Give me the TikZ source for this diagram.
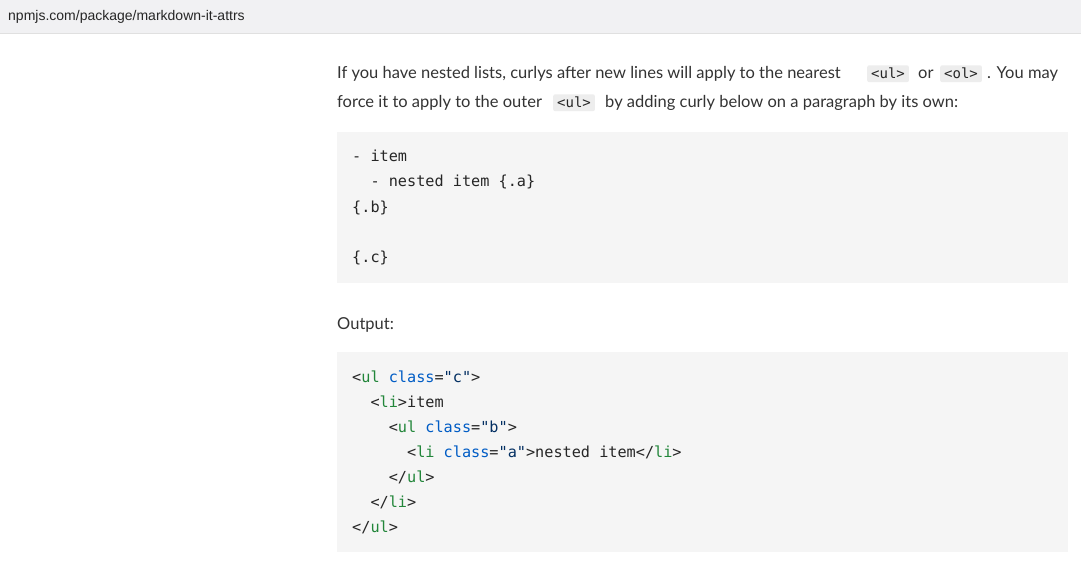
\documentclass[tikz,border=0pt]{standalone}
\usepackage{fontspec}
\setmainfont{Lato}
\newfontfamily\codefont{DejaVu Sans Mono}
\newfontfamily\barfont{Liberation Sans}
\definecolor{bar}{HTML}{F1F1F3}
\definecolor{codebg}{HTML}{F5F5F5}
\definecolor{inl}{HTML}{EDEDED}
\definecolor{tg}{HTML}{22863A}
\definecolor{at}{HTML}{005CC5}
\definecolor{st}{HTML}{032F62}
\definecolor{txt}{HTML}{333333}
\newcommand\tg[1]{\textcolor{tg}{#1}}
\newcommand\at[1]{\textcolor{at}{#1}}
\newcommand\st[1]{\textcolor{st}{#1}}
\begin{document}
\begin{tikzpicture}[x=1pt,y=-1pt,
  para/.style={anchor=base west,inner sep=0,font=\fontsize{16.5}{20}\selectfont,text=txt},
  code/.style={anchor=base west,inner sep=0,font=\codefont\fontsize{15.2}{18}\selectfont,text=black!85},
  icode/.style={anchor=base west,inner xsep=4,inner ysep=3,fill=inl,rounded corners=2,font=\codefont\fontsize{14}{16}\selectfont,text=black!85}]
\useasboundingbox (0,0) rectangle (1081,588);
\fill[white] (0,0) rectangle (1081,588);
\fill[bar] (0,0) rectangle (1081,33);
\draw[black!12] (0,33.5) -- (1081,33.5);
\node[anchor=base west,inner sep=0,font=\barfont\fontsize{14}{16}\selectfont,text=black!85] (url) at (8,21) {npmjs.com/package/markdown-it-attrs};
% paragraph
\node[para] (p1) at (337,79) {If you have nested lists, curlys after new lines will apply to the nearest};
\node[icode] (c1) at (867,79) {<ul>};
\node[para] (p1b) at (918,79) {or};
\node[icode] (c2) at (940,79) {<ol>};
\node[para] (p1c) at (987,79) {. You may};
\node[para] (p2) at (337,108) {force it to apply to the outer};
\node[icode] (c3) at (553,108) {<ul>};
\node[para] (p2b) at (605,108) {by adding curly below on a paragraph by its own:};
% code block 1
\fill[codebg] (337,132) rectangle (1068,283);
\node[code] (a1) at (352,162) {- item};
\node[code] (a2) at (352,187) {\ \ - nested item \{.a\}};
\node[code] (a3) at (352,212) {\{.b\}};
\node[code] (a4) at (352,262) {\{.c\}};
\node[para] (out) at (337,329) {Output:};
% code block 2
\fill[codebg] (337,352) rectangle (1068,552);
\node[code] (b1) at (352,382) {<\tg{ul} \at{class}=\st{"c"}>};
\node[code] (b2) at (352,407) {\ \ <\tg{li}>item};
\node[code] (b3) at (352,432) {\ \ \ \ <\tg{ul} \at{class}=\st{"b"}>};
\node[code] (b4) at (352,457) {\ \ \ \ \ \ <\tg{li} \at{class}=\st{"a"}>nested item</\tg{li}>};
\node[code] (b5) at (352,482) {\ \ \ \ </\tg{ul}>};
\node[code] (b6) at (352,507) {\ \ </\tg{li}>};
\node[code] (b7) at (352,532) {</\tg{ul}>};
\end{tikzpicture}
\end{document}
